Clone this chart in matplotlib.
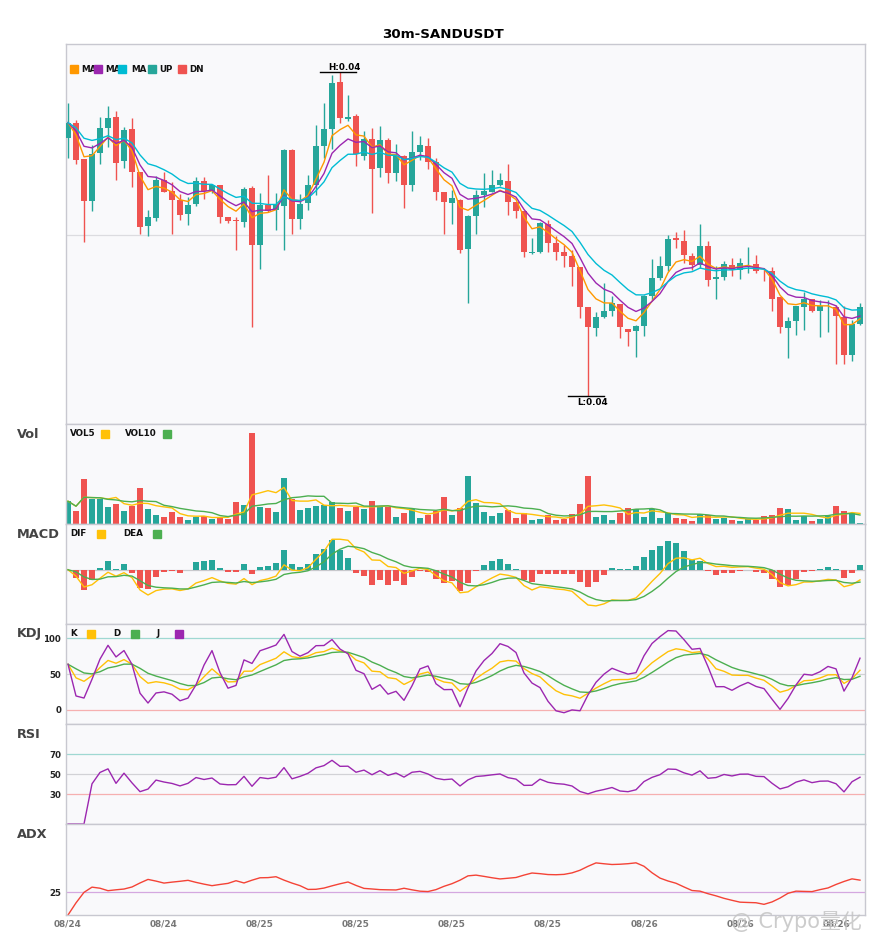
import numpy as np
import pandas as pd
import matplotlib
matplotlib.use('Agg')
import matplotlib.pyplot as plt
from matplotlib.transforms import ScaledTranslation

plt.rcParams['font.family'] = ['DejaVu Sans', 'Noto Sans CJK SC']

symbol = '30m-SANDUSDT'
start_time = '2025-08-24 14:00'

# OHLC read from the candles (price)
open_ = [0.04325, 0.04355, 0.04282, 0.04199, 0.04295, 0.04344, 0.04366, 0.04279, 0.04342, 0.04257,
         0.04149, 0.04165, 0.04240, 0.04218, 0.04200, 0.04172, 0.04192, 0.04238, 0.04218, 0.04230,
         0.04167, 0.04160, 0.04157, 0.04225, 0.04109, 0.04191, 0.04180, 0.04189, 0.04300, 0.04162,
         0.04195, 0.04231, 0.04308, 0.04343, 0.04436, 0.04363, 0.04368, 0.04288, 0.04323, 0.04265,
         0.04320, 0.04255, 0.04288, 0.04230, 0.04297, 0.04308, 0.04276, 0.04217, 0.04195, 0.04201,
         0.04102, 0.04168, 0.04210, 0.04217, 0.04230, 0.04238, 0.04197, 0.04179, 0.04094, 0.04096,
         0.04153, 0.04113, 0.04095, 0.04088, 0.04065, 0.03985, 0.03943, 0.03965, 0.03978, 0.03992,
         0.03941, 0.03937, 0.03948, 0.04007, 0.04043, 0.04067, 0.04123, 0.04118, 0.04088, 0.04070,
         0.04108, 0.04041, 0.04045, 0.04070, 0.04059, 0.04073, 0.04072, 0.04056, 0.04058, 0.04005,
         0.03943, 0.03958, 0.03985, 0.04002, 0.03978, 0.03987, 0.03985, 0.03965, 0.03889, 0.03952]
high = [0.04395, 0.04360, 0.04282, 0.04310, 0.04367, 0.04388, 0.04378, 0.04347, 0.04364, 0.04257,
        0.04180, 0.04248, 0.04257, 0.04237, 0.04213, 0.04206, 0.04247, 0.04247, 0.04233, 0.04230,
        0.04167, 0.04167, 0.04227, 0.04228, 0.04215, 0.04250, 0.04214, 0.04303, 0.04302, 0.04213,
        0.04251, 0.04350, 0.04395, 0.04450, 0.04457, 0.04410, 0.04373, 0.04338, 0.04345, 0.04348,
        0.04325, 0.04313, 0.04290, 0.04339, 0.04329, 0.04324, 0.04285, 0.04217, 0.04220, 0.04202,
        0.04170, 0.04220, 0.04255, 0.04260, 0.04254, 0.04273, 0.04197, 0.04179, 0.04124, 0.04156,
        0.04160, 0.04127, 0.04110, 0.04100, 0.04065, 0.03985, 0.03975, 0.04033, 0.04007, 0.03992,
        0.03941, 0.03950, 0.04010, 0.04081, 0.04088, 0.04130, 0.04136, 0.04140, 0.04093, 0.04152,
        0.04117, 0.04067, 0.04078, 0.04083, 0.04083, 0.04105, 0.04089, 0.04063, 0.04065, 0.04005,
        0.03965, 0.03988, 0.04015, 0.04002, 0.04000, 0.04000, 0.03990, 0.03987, 0.03960, 0.03993]
low = [0.04285, 0.04273, 0.04115, 0.04179, 0.04273, 0.04307, 0.04241, 0.04265, 0.04227, 0.04131,
       0.04127, 0.04158, 0.04217, 0.04131, 0.04160, 0.04151, 0.04188, 0.04202, 0.04214, 0.04155,
       0.04154, 0.04100, 0.04147, 0.03945, 0.04062, 0.04176, 0.04140, 0.04100, 0.04131, 0.04143,
       0.04180, 0.04210, 0.04285, 0.04303, 0.04355, 0.04358, 0.04268, 0.04280, 0.04175, 0.04247,
       0.04235, 0.04239, 0.04185, 0.04219, 0.04280, 0.04262, 0.04200, 0.04133, 0.04153, 0.04093,
       0.03993, 0.04132, 0.04187, 0.04216, 0.04228, 0.04170, 0.04165, 0.04085, 0.04091, 0.04094,
       0.04096, 0.04080, 0.04065, 0.04027, 0.03963, 0.03807, 0.03927, 0.03964, 0.03968, 0.03923,
       0.03907, 0.03885, 0.03927, 0.04000, 0.04040, 0.04057, 0.04103, 0.04073, 0.04060, 0.04063,
       0.04028, 0.04002, 0.04040, 0.04047, 0.04042, 0.04053, 0.04053, 0.04037, 0.03978, 0.03933,
       0.03883, 0.03929, 0.03939, 0.03975, 0.03925, 0.03935, 0.03871, 0.03871, 0.03878, 0.03950]
close = [0.04355, 0.04281, 0.04199, 0.04293, 0.04344, 0.04364, 0.04275, 0.04340, 0.04257, 0.04147,
         0.04166, 0.04240, 0.04217, 0.04200, 0.04170, 0.04190, 0.04238, 0.04218, 0.04230, 0.04167,
         0.04158, 0.04159, 0.04222, 0.04109, 0.04191, 0.04178, 0.04192, 0.04300, 0.04162, 0.04192,
         0.04231, 0.04308, 0.04343, 0.04435, 0.04365, 0.04367, 0.04292, 0.04323, 0.04262, 0.04320,
         0.04255, 0.04288, 0.04230, 0.04297, 0.04310, 0.04276, 0.04217, 0.04197, 0.04204, 0.04099,
         0.04168, 0.04210, 0.04218, 0.04230, 0.04240, 0.04197, 0.04179, 0.04095, 0.04096, 0.04154,
         0.04113, 0.04096, 0.04088, 0.04065, 0.03985, 0.03945, 0.03965, 0.03978, 0.03993, 0.03945,
         0.03935, 0.03948, 0.04008, 0.04043, 0.04067, 0.04122, 0.04119, 0.04090, 0.04070, 0.04108,
         0.04040, 0.04046, 0.04072, 0.04059, 0.04073, 0.04074, 0.04057, 0.04055, 0.04002, 0.03945,
         0.03958, 0.03987, 0.04002, 0.03978, 0.03987, 0.03988, 0.03967, 0.03889, 0.03952, 0.03985]
# volume in thousands
volume_k = [68, 38, 133, 76, 76, 50, 61, 40, 53, 106,
            46, 28, 22, 37, 22, 13, 22, 24, 16, 22,
            16, 67, 58, 271, 52, 49, 37, 136, 76, 43,
            49, 55, 58, 67, 49, 40, 52, 46, 70, 52,
            52, 22, 34, 46, 19, 28, 40, 79, 28, 49,
            142, 64, 37, 25, 34, 43, 19, 34, 13, 16,
            28, 13, 16, 31, 61, 142, 22, 28, 13, 34,
            49, 46, 22, 46, 19, 34, 19, 16, 10, 31,
            28, 16, 19, 13, 10, 16, 13, 25, 28, 49,
            46, 13, 25, 10, 16, 25, 55, 40, 34, 4]

ma_spans = [5, 8, 13]
macd_fast, macd_slow, macd_signal = 6, 13, 5
up_color = '#26a69a'
dn_color = '#ef5350'
ma_colors = ['#ff9800', '#9c27b0', '#00bcd4']
yellow = '#ffc107'
green = '#4caf50'
purple = '#9c27b0'
face = '#f9f9fb'
edge = '#c8c8d0'

df = pd.DataFrame({'open': open_, 'high': high, 'low': low, 'close': close, 'vol': volume_k},
                  index=pd.date_range(start_time, periods=len(close), freq='30min'))
x = np.arange(len(df))
c = df['close']
is_up = (df['close'] >= df['open']).values
bar_colors = np.where(is_up, up_color, dn_color)

# indicators
mas = [c.ewm(span=s, adjust=False).mean() for s in ma_spans]
vol5 = df['vol'].rolling(5, min_periods=1).mean()
vol10 = df['vol'].rolling(10, min_periods=1).mean()
dif = c.ewm(span=macd_fast, adjust=False).mean() - c.ewm(span=macd_slow, adjust=False).mean()
dea = dif.ewm(span=macd_signal, adjust=False).mean()
hist = 2 * (dif - dea)
low9 = df['low'].rolling(9, min_periods=1).min()
high9 = df['high'].rolling(9, min_periods=1).max()
rsv = (c - low9) / (high9 - low9) * 100
k = rsv.ewm(com=2, adjust=False).mean()
d = k.ewm(com=2, adjust=False).mean()
j = 3 * k - 2 * d
chg = c.diff()
gain = chg.clip(lower=0).ewm(com=13).mean()
loss = (-chg).clip(lower=0).ewm(com=13).mean()
rsi = (100 * gain / (gain + loss)).fillna(0)
up_move = df['high'].diff()
dn_move = -df['low'].diff()
pdm = pd.Series(np.where((up_move > dn_move) & (up_move > 0), up_move, 0.0))
mdm = pd.Series(np.where((dn_move > up_move) & (dn_move > 0), dn_move, 0.0))
pdm_s = pdm.ewm(span=14, adjust=False).mean()
mdm_s = mdm.ewm(span=14, adjust=False).mean()
dx = ((pdm_s - mdm_s).abs() / (pdm_s + mdm_s) * 100).fillna(0)
adx = dx.ewm(span=14, adjust=False).mean()

fig = plt.figure(figsize=(8.85, 9.5), dpi=100)
W, H = 885, 950
left_px, right_px = 66, 865
panels = [(44, 424), (424, 524), (524, 624), (624, 724), (724, 824), (824, 915)]
axes = []
for top, bot in panels:
    a = fig.add_axes([left_px / W, 1 - bot / H, (right_px - left_px) / W, (bot - top) / H],
                     sharex=axes[0] if axes else None)
    a.set_facecolor(face)
    for s in a.spines.values():
        s.set_color(edge)
        s.set_linewidth(1.0)
    a.tick_params(length=0, labelsize=6.2, labelcolor='#222')
    axes.append(a)
ax_p, ax_v, ax_m, ax_k, ax_r, ax_a = axes


def px_offset(ax, dx_px, dy_px):
    # position measured in pixels from the axes' top-left corner
    return ax.transAxes + ScaledTranslation(dx_px / 100, -dy_px / 100, fig.dpi_scale_trans)


def legend_row(ax, items, y_px, fs=6.3):
    for label, color, tx, sx in items:
        ax.text(0, 1, label, transform=px_offset(ax, tx - left_px, y_px), fontsize=fs,
                fontweight='bold', va='center', ha='left', color='#111', zorder=10)
        ax.plot([0], [1], marker='s', ms=5.6, color=color, linestyle='none', clip_on=False,
                transform=px_offset(ax, sx + 3.7 - left_px, y_px), zorder=11)


# price panel
body_lo = np.minimum(df['open'], df['close'])
body_h = np.maximum((df['close'] - df['open']).abs(), 0.000012)
ax_p.vlines(x, df['low'], df['high'], colors=bar_colors, linewidth=1.0, zorder=2)
ax_p.bar(x, body_h, bottom=body_lo, width=0.75, color=bar_colors, zorder=3)
for m, col in zip(mas, ma_colors):
    ax_p.plot(x, m, color=col, linewidth=1.0, zorder=4)
rng = df['high'].max() - df['low'].min()
ax_p.set_ylim(df['low'].min() - 0.085 * rng, df['high'].max() + 0.085 * rng)
ax_p.set_yticks([0.0413])
ax_p.set_yticklabels([])
ax_p.grid(axis='y', color='#dcdce0', linewidth=0.9)
ax_p.set_axisbelow(True)

hi_i = int(np.argmax(df['high'].values))
lo_i = int(np.argmin(df['low'].values))
hi_v = df['high'].iloc[hi_i]
lo_v = df['low'].iloc[lo_i]
ax_p.plot([hi_i - 2.5, hi_i + 2.0], [hi_v, hi_v], color='black', linewidth=1.0, zorder=5)
ax_p.text(hi_i - 1.5, hi_v, 'H:%.2f' % hi_v, fontsize=6.3, fontweight='bold', va='bottom', ha='left')
ax_p.plot([lo_i - 2.5, lo_i + 2.0], [lo_v, lo_v], color='black', linewidth=1.0, zorder=5)
ax_p.text(lo_i - 1.4, lo_v - 0.006 * rng, 'L:%.2f' % lo_v, fontsize=6.3, fontweight='bold', va='top', ha='left')

legend_row(ax_p, [('MA', ma_colors[0], 81, 70), ('MA', ma_colors[1], 105, 94.3),
                  ('MA', ma_colors[2], 131, 118.3), ('UP', up_color, 159, 148.3),
                  ('DN', dn_color, 189, 178.3)], 25)

# volume panel
ax_v.bar(x, df['vol'], width=0.75, color=bar_colors, zorder=2)
ax_v.plot(x, vol5, color=yellow, linewidth=1.0, zorder=3)
ax_v.plot(x, vol10, color=green, linewidth=1.0, zorder=3)
ax_v.set_ylim(0, df['vol'].max() * 1.1)
ax_v.set_yticks([])
legend_row(ax_v, [('VOL5', yellow, 70, 101), ('VOL10', green, 125, 163.3)], 9.5)

# MACD panel
hist_colors = np.where(hist >= 0, up_color, dn_color)
ax_m.bar(x, hist, width=0.75, color=hist_colors, zorder=2)
ax_m.plot(x, dif, color=yellow, linewidth=1.0, zorder=3)
ax_m.plot(x, dea, color=green, linewidth=1.0, zorder=3)
ax_m.axhline(0, color='#c8c8cc', linewidth=0.9, zorder=1)
mvals = np.concatenate([dif.values, dea.values, hist.values])
ax_m.set_ylim(mvals.min() * 1.5, mvals.max() * 1.5)
ax_m.set_yticks([])
legend_row(ax_m, [('DIF', yellow, 70, 97), ('DEA', green, 123, 153)], 9.5)

# KDJ panel
ax_k.axhline(100, color='#9fd8d2', linewidth=0.9)
ax_k.axhline(50, color='#d2d2d6', linewidth=0.9)
ax_k.axhline(0, color='#f6b0b0', linewidth=0.9)
ax_k.plot(x, k, color=yellow, linewidth=1.0)
ax_k.plot(x, d, color=green, linewidth=1.0)
ax_k.plot(x, j, color=purple, linewidth=1.0)
ax_k.set_ylim(-20, 120)
ax_k.set_yticks([0, 50, 100])
legend_row(ax_k, [('K', yellow, 70, 87.3), ('D', green, 113, 131), ('J', purple, 157, 175.3)], 9.5)

# RSI panel
ax_r.axhline(70, color='#9fd8d2', linewidth=0.9)
ax_r.axhline(50, color='#d2d2d6', linewidth=0.9)
ax_r.axhline(30, color='#f6b0b0', linewidth=0.9)
ax_r.plot(x, rsi, color=purple, linewidth=1.0)
ax_r.set_ylim(0, 100)
ax_r.set_yticks([30, 50, 70])

# ADX panel
ax_a.axhline(25, color='#d4a8e0', linewidth=0.9)
ax_a.plot(x, adx, color='#f44336', linewidth=1.0)
ax_a.set_ylim(0, 100)
ax_a.set_yticks([25])

for a in axes:
    for lab in a.get_yticklabels():
        lab.set_fontweight('bold')

tick_idx = list(range(0, len(df), 12))
ax_a.set_xticks(tick_idx)
ax_a.set_xticklabels(df.index[tick_idx].strftime('%m/%d'), fontsize=6.4, fontweight='bold', color='#777')
ax_a.tick_params(axis='x', pad=3)
for a in axes[:-1]:
    a.tick_params(axis='x', labelbottom=False)
ax_a.set_xlim(-0.25, len(df) - 1 + 0.625)

for a, name in zip(axes[1:], ['Vol', 'MACD', 'KDJ', 'RSI', 'ADX']):
    a.text(0, 1, name, transform=px_offset(a, 17 - left_px, 10), fontsize=9.3, fontweight='bold',
           color='#444', ha='left', va='center')

fig.text(443 / W, 1 - 34 / H, symbol, fontsize=9.6, fontweight='bold', ha='center', va='center')
# watermark of the source picture
fig.text(862 / W, 1 - 922 / H, '@ Crypo量化', fontsize=15, color='#c4c4c4', alpha=0.85,
         ha='right', va='center')

fig.savefig('out.png', dpi=100)
